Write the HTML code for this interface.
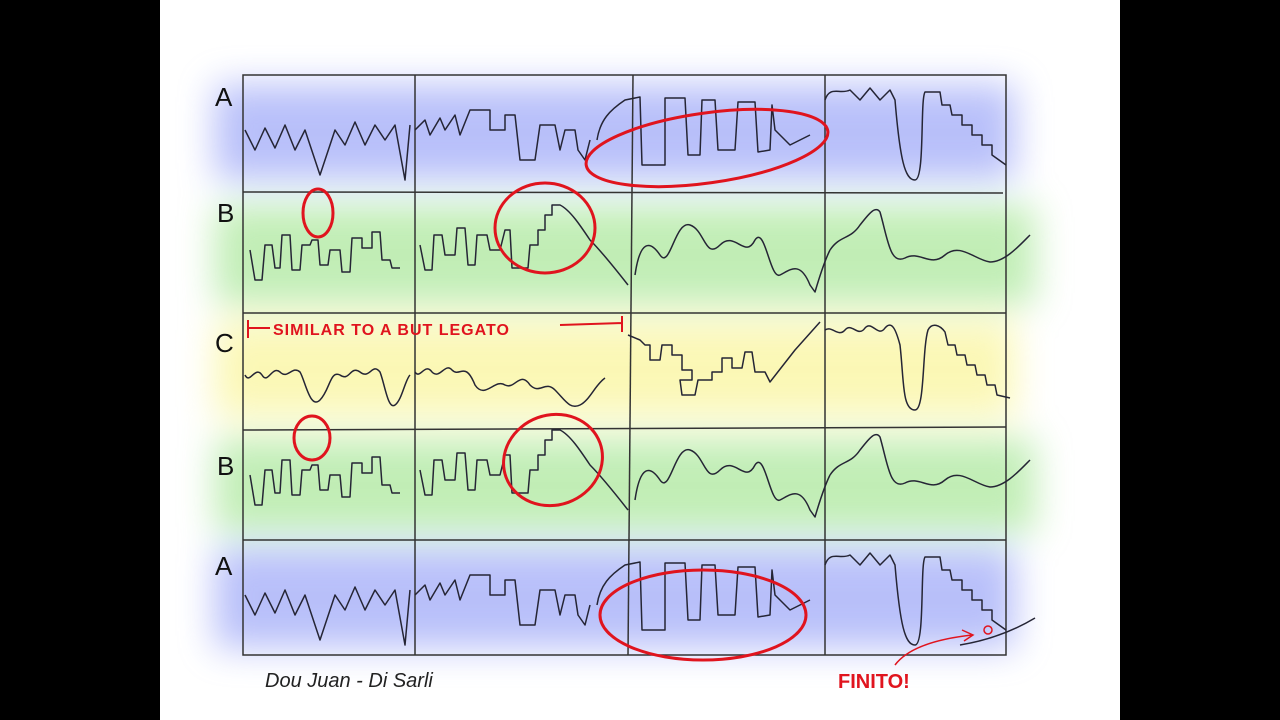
<!DOCTYPE html>
<html><head><meta charset="utf-8"><style>
html,body{margin:0;padding:0;background:#000;}
svg{display:block;}
</style></head><body>
<svg width="1280" height="720" viewBox="0 0 1280 720" xmlns="http://www.w3.org/2000/svg">
<defs>
<filter id="b" x="-20%" y="-50%" width="140%" height="200%"><feGaussianBlur stdDeviation="18"/></filter>
<g id="r1">
<path d="M245 130 L255 150 L265 128 L275 148 L285 125 L295 150 L305 130 L320 175 L335 130 L345 145 L355 122 L365 145 L375 125 L385 140 L395 125 L405 180 L410 125"/>
<path d="M415 130 L425 120 L430 135 L440 118 L445 130 L455 115 L460 135 L470 110 L490 110 L490 130 L505 130 L505 115 L515 115 L520 160 L535 160 L540 125 L555 125 L560 150 L565 130 L575 130 L578 150 L585 160 L590 140"/>
<path d="M597 140 C600 120 610 110 625 100 L640 97 L642 165 L665 165 L665 98 L685 98 L688 155 L700 155 L702 100 L715 100 L718 150 L735 150 L738 102 L755 102 L758 152 L770 150 L772 105 L775 130 L790 145 L810 135"/>
<path d="M825 100 C830 85 840 95 850 90 L860 100 L870 88 L880 100 L890 90 L895 100 C900 160 905 180 915 180 C925 180 920 100 925 92 L940 92 L942 105 L950 105 L952 115 L962 115 L962 125 L972 125 L972 135 L982 135 L982 145 L992 145 L992 155 L1006 165"/>
</g>
<g id="r2">
<path d="M250 250 L255 280 L262 280 L265 245 L272 245 L275 268 L280 268 L282 235 L290 235 L292 270 L300 270 L302 245 L310 245 L312 240 L318 240 L320 265 L328 265 L330 250 L340 250 L342 272 L350 272 L352 238 L362 238 L362 248 L372 248 L372 232 L380 232 L382 260 L390 260 L392 268 L400 268"/>
<path d="M420 245 L425 270 L432 270 L434 235 L442 235 L445 255 L455 255 L457 228 L465 228 L468 265 L475 265 L477 235 L487 235 L490 250 L500 250 L505 230 L510 230 L512 268 L528 268 L530 245 L538 245 L538 230 L545 230 L545 215 L552 215 L552 205 L560 205 C570 210 580 225 590 240 C600 250 610 262 628 285"/>
<path d="M635 275 C640 240 650 240 660 255 C670 270 675 220 690 225 C705 230 705 260 720 245 C735 230 745 260 755 240 C765 225 770 280 780 275 C790 270 800 260 810 285 L815 292 C820 275 825 260 830 250"/>
<path d="M830 250 C840 235 850 240 860 225 C868 215 875 205 880 212 C888 240 890 265 905 258 C920 250 930 268 945 255 C960 242 975 260 990 262 C1005 262 1020 245 1030 235"/>
</g>
<g id="r3">
<path d="M245 375 C250 385 255 365 262 375 C268 385 272 365 280 372 C288 380 292 365 300 372 C305 380 310 410 320 400 C330 390 330 370 340 375 C350 382 350 365 360 372 C370 380 372 362 380 372 C385 385 388 410 395 405 C402 400 405 380 410 375"/>
<path d="M415 372 C420 380 425 362 432 372 C440 380 445 362 452 370 C460 378 465 360 475 385 C485 400 495 378 505 385 C515 390 520 370 530 385 C540 395 545 380 555 390 C565 400 570 410 580 405 C590 400 595 385 605 378"/>
<path d="M628 335 L640 340 L645 345 L650 345 L650 360 L660 360 L662 345 L672 345 L672 355 L682 355 L682 370 L692 370 L692 380 L680 380 L682 395 L695 395 L698 380 L712 380 L712 372 L722 372 L722 358 L732 358 L732 368 L742 368 L745 352 L752 352 L755 372 L765 372 L770 382 L795 350 L820 322"/>
<path d="M825 330 C832 325 838 338 845 330 C852 322 858 338 865 328 C872 320 878 338 885 328 C892 320 896 330 900 345 C904 380 902 410 915 410 C925 410 922 350 928 330 C932 322 940 325 945 332 L948 345 L955 345 L957 355 L965 355 L967 365 L975 365 L977 375 L985 375 L987 385 L995 385 L997 395 L1010 398"/>
</g>
</defs>
<rect x="160" y="0" width="960" height="720" fill="#fff"/>
<g filter="url(#b)" opacity="0.55">
<rect x="215" y="85" width="800" height="95" fill="#7f8cf5"/>
<rect x="215" y="205" width="820" height="100" fill="#8fe07a"/>
<rect x="215" y="322" width="800" height="95" fill="#f8f27a"/>
<rect x="215" y="438" width="820" height="95" fill="#8fe07a"/>
<rect x="215" y="548" width="800" height="100" fill="#7f8cf5"/>
</g>
<g stroke="#333" stroke-width="1.5" fill="none">
<rect x="243" y="75" width="763" height="580"/>
<line x1="415" y1="75" x2="415" y2="655"/>
<line x1="633" y1="75" x2="628" y2="655"/>
<line x1="825" y1="75" x2="825" y2="655"/>
<line x1="243" y1="192" x2="1003" y2="193"/>
<line x1="243" y1="313" x2="1006" y2="313"/>
<line x1="243" y1="430" x2="1006" y2="427"/>
<line x1="243" y1="540" x2="1006" y2="540"/>
</g>
<g stroke="#252535" stroke-width="1.5" fill="none" stroke-linejoin="round">
<use href="#r1"/>
<use href="#r2"/>
<use href="#r3"/>
<use href="#r2" transform="translate(0,225)"/>
<use href="#r1" transform="translate(0,465)"/>
<path d="M960 645 C990 640 1015 630 1035 618"/>
</g>
<g stroke="#e0141e" stroke-width="3" fill="none">
<ellipse cx="707" cy="148" rx="122" ry="35" transform="rotate(-8 707 148)"/>
<ellipse cx="318" cy="213" rx="15" ry="24"/>
<ellipse cx="545" cy="228" rx="50" ry="45"/>
<ellipse cx="312" cy="438" rx="18" ry="22"/>
<ellipse cx="553" cy="460" rx="50" ry="45" transform="rotate(-20 553 460)"/>
<ellipse cx="703" cy="615" rx="103" ry="45"/>
<path d="M248 320 L248 338 M248 328 L270 328 M560 325 L622 323 M622 316 L622 332" stroke-width="2"/>
<path d="M895 665 C910 645 945 638 972 635 M962 630 L973 635 L964 641" stroke-width="1.5"/>
<circle cx="988" cy="630" r="4" stroke-width="1.5"/>
</g>
<g font-family="Liberation Sans, sans-serif" font-size="26" fill="#111">
<text x="215" y="106">A</text>
<text x="217" y="222">B</text>
<text x="215" y="352">C</text>
<text x="217" y="475">B</text>
<text x="215" y="575">A</text>
</g>
<text x="273" y="335" font-family="Liberation Sans, sans-serif" font-size="16" font-weight="bold" fill="#e0141e" letter-spacing="1">SIMILAR TO A BUT LEGATO</text>
<text x="265" y="687" font-family="Liberation Sans, sans-serif" font-size="20" font-style="italic" fill="#222">Dou Juan - Di Sarli</text>
<text x="838" y="688" font-family="Liberation Sans, sans-serif" font-size="20" font-weight="bold" fill="#e0141e">FINITO!</text>
</svg>
</body></html>
